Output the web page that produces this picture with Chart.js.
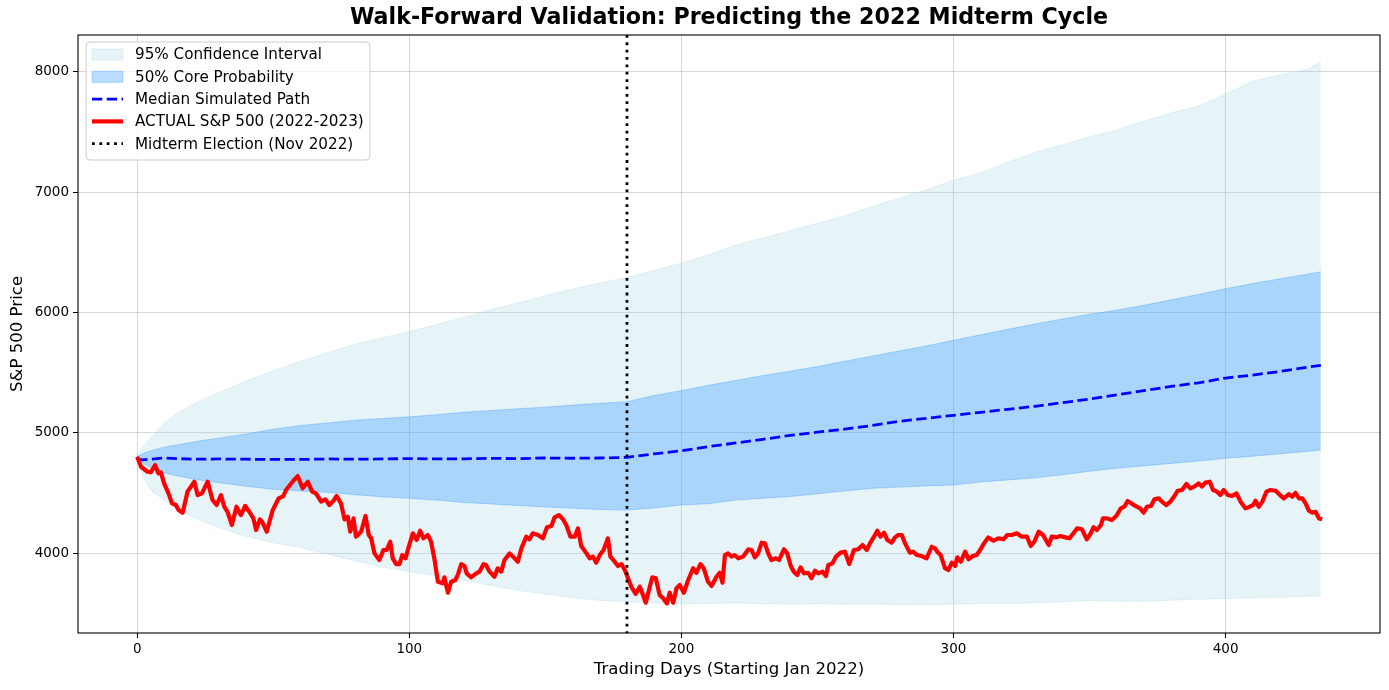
<!DOCTYPE html>
<html>
<head>
<meta charset="utf-8">
<script src="https://cdn.jsdelivr.net/npm/chart.js@4.4.1/dist/chart.umd.min.js"></script>
<style>
  html, body { margin: 0; padding: 0; background: #fff; }
  canvas { display: block; }
</style>
</head>
<body>
<canvas id="wf_chart" width="1389" height="690"></canvas>
<script>
// data
var bandDays = [0, 2, 5, 10, 15, 20, 25, 30, 40, 50, 60, 70, 80, 90, 100, 110, 120, 130, 140, 150, 160, 170, 180,
  190, 200, 210, 220, 230, 240, 250, 260, 270, 280, 290, 300, 310, 320, 330, 340, 350, 360, 370, 380, 390, 400,
  410, 420, 430, 435];
var upper95 = [4800, 4880, 4960, 5080, 5165, 5230, 5285, 5335, 5430, 5515, 5595, 5665, 5735, 5790, 5840, 5900, 5960,
  6025, 6080, 6140, 6195, 6245, 6290, 6350, 6410, 6480, 6560, 6620, 6680, 6742, 6805, 6880, 6950, 7020, 7100, 7160,
  7250, 7330, 7395, 7460, 7518, 7590, 7660, 7715, 7815, 7925, 7975, 8020, 8086];
var lower95 = [4800, 4640, 4520, 4440, 4365, 4305, 4255, 4210, 4140, 4085, 4045, 3990, 3935, 3885, 3845, 3810, 3775,
  3730, 3690, 3660, 3630, 3607, 3595, 3585, 3576, 3580, 3585, 3578, 3576, 3578, 3575, 3576, 3572, 3570, 3575, 3580,
  3580, 3585, 3595, 3605, 3600, 3598, 3608, 3615, 3622, 3628, 3632, 3640, 3642];
var upper50 = [4800, 4825, 4850, 4880, 4900, 4920, 4939, 4955, 4990, 5030, 5060, 5082, 5104, 5118, 5132, 5150, 5170,
  5185, 5200, 5213, 5230, 5245, 5258, 5310, 5350, 5395, 5435, 5475, 5512, 5550, 5595, 5637, 5680, 5722, 5768, 5815,
  5860, 5905, 5945, 5985, 6020, 6060, 6105, 6150, 6198, 6240, 6280, 6318, 6338];
var lower50 = [4800, 4750, 4710, 4665, 4640, 4618, 4600, 4585, 4555, 4530, 4515, 4505, 4485, 4468, 4455, 4440, 4420,
  4408, 4395, 4383, 4373, 4362, 4357, 4375, 4399, 4410, 4440, 4455, 4470, 4492, 4515, 4538, 4548, 4558, 4565, 4590,
  4608, 4625, 4650, 4680, 4705, 4725, 4745, 4765, 4787, 4805, 4825, 4845, 4856];
var medianPath = [4780, 4775, 4780, 4790, 4785, 4780, 4780, 4782, 4780, 4778, 4778, 4782, 4780, 4782, 4785, 4782, 4783,
  4787, 4785, 4790, 4788, 4790, 4795, 4825, 4850, 4885, 4915, 4945, 4978, 5005, 5030, 5060, 5095, 5120, 5145, 5170,
  5195, 5220, 5250, 5280, 5315, 5350, 5385, 5415, 5455, 5480, 5510, 5545, 5561];

var actualDays = [0, 1.4, 3.8, 5, 6.6, 7.8, 8.7, 9.9, 11.5, 12.8, 14.2, 15.2, 16.7, 18.5, 21, 22.2, 23.8, 25.9, 27.7,
  29.2, 30.8, 32, 33.2, 34.8, 36.5, 38.1, 39.7, 41.2, 42.7, 43.7, 45.1, 45.9, 47.6, 49.8, 52, 53.7, 54.7, 57.1, 59,
  60.8, 62.7, 64.3, 65.7, 67.6, 69.2, 70.6, 72, 73.3, 74.9, 76.2, 77.4, 78.3, 79.5, 80.4, 82.3, 83.9, 85.1, 86, 87.2,
  89, 90.5, 91.7, 93, 93.9, 95.2, 96.4, 97.4, 98.6, 99.8, 101.3, 102.7, 104, 105.2, 106.8, 108, 109.3, 110.5, 112.3,
  112.9, 114.2, 115.4, 117, 117.8, 119.1, 120.3, 121.1, 122.7, 124.6, 125.8, 127.3, 128.2, 129.5, 131.3, 132.5, 133.8,
  135, 136.9, 138.1, 139.9, 141.2, 143, 144.2, 145.4, 147.3, 149.1, 150.6, 152.2, 153.4, 155, 156.5, 157.7, 159.2,
  160.8, 162, 163.2, 165.1, 166.3, 167.5, 168.7, 170, 171.4, 173, 173.9, 175.5, 176.7, 178, 179.2, 180.4, 181.6, 183.2,
  184.7, 185.9, 186.9, 188.4, 189.3, 190.6, 192, 193.3, 194.7, 195.7, 197, 198.2, 199.4, 200.9, 202.5, 204.3, 205.5,
  207, 208.2, 209.8, 211.1, 212.9, 214.1, 215.1, 216, 217.2, 218.4, 219.6, 220.9, 222.7, 224.6, 225.8, 227, 228.2,
  229.5, 230.7, 231.9, 233.1, 234.7, 235.9, 237.7, 238.9, 240.2, 241.3, 242.6, 243.8, 245, 246.6, 247.8, 249.1, 250.3,
  251.9, 253.1, 254, 255.5, 256.8, 258.5, 260.1, 261.7, 263.4, 265, 266.6, 268.1, 269.3, 270.8, 272, 273.2, 274.5,
  275.7, 277.3, 278.5, 279.7, 281, 282.2, 284, 285.2, 286.5, 288.3, 290.1, 292, 293.2, 294, 295.3, 296.9, 298.1,
  299.4, 300.6, 301.4, 302.7, 304.3, 305.5, 307.1, 308.5, 309.8, 311.2, 312.8, 314.7, 316.5, 318.4, 319.8, 321.4,
  323.3, 325.1, 327, 328.4, 329.7, 331.3, 332.9, 335, 336.1, 337.8, 339.2, 341.1, 342.6, 344.1, 345.4, 347.2, 349,
  350.3, 351.5, 352.7, 354.2, 354.9, 356.4, 358.2, 359.8, 361.5, 362.8, 364, 365.6, 366.8, 368.6, 369.9, 371.1,
  372.6, 373.8, 375.4, 376.6, 378.2, 379.7, 381.2, 382.4, 384, 385.6, 387, 388.5, 390.1, 391.3, 392.6, 394.2, 395.4,
  396.9, 398.1, 399.3, 400.8, 402.4, 404, 405.5, 407.3, 408.9, 410.1, 411, 412.2, 413.5, 415, 416.5, 418.4, 420,
  421.4, 423.3, 424.5, 425.7, 427, 428.2, 429.4, 430.6, 431.9, 433.1, 434.3, 435.5];
var actualPrice = [4800, 4717, 4676, 4671, 4731, 4662, 4671, 4579, 4496, 4413, 4399, 4357, 4335, 4510, 4593, 4482,
  4496, 4593, 4441, 4399, 4482, 4385, 4343, 4233, 4385, 4316, 4391, 4343, 4288, 4191, 4280, 4260, 4177, 4357, 4455,
  4474, 4524, 4593, 4640, 4538, 4593, 4510, 4496, 4427, 4446, 4399, 4430, 4474, 4413, 4280, 4302, 4177, 4288, 4136,
  4177, 4308, 4150, 4122, 3997, 3942, 4025, 4025, 4094, 3956, 3908, 3908, 3983, 3956, 4052, 4164, 4108, 4185, 4122,
  4150, 4094, 3942, 3761, 3748, 3798, 3670, 3761, 3776, 3817, 3908, 3892, 3831, 3798, 3831, 3845, 3908, 3900, 3845,
  3803, 3873, 3845, 3942, 3997, 3970, 3928, 4039, 4136, 4114, 4164, 4150, 4122, 4214, 4224, 4297, 4316, 4280, 4233,
  4136, 4136, 4205, 4058, 3997, 3956, 3970, 3920, 3983, 4025, 4122, 3970, 3928, 3892, 3908, 3859, 3790, 3720, 3659,
  3720, 3651, 3587, 3720, 3798, 3790, 3651, 3623, 3581, 3670, 3587, 3707, 3734, 3670, 3776, 3873, 3836, 3908, 3873,
  3761, 3726, 3803, 3836, 3753, 3983, 3997, 3970, 3983, 3956, 3970, 4031, 4025, 3964, 3997, 4086, 4080, 3997, 3942,
  3956, 3942, 4031, 3997, 3892, 3845, 3817, 3881, 3831, 3836, 3790, 3853, 3831, 3845, 3809, 3900, 3914, 3970, 4003,
  4011, 3908, 4025, 4031, 4066, 4025, 4080, 4136, 4185, 4136, 4169, 4108, 4086, 4130, 4150, 4150, 4080, 4003, 4011,
  3983, 3975, 3956, 4052, 4039, 4011, 3983, 3873, 3859, 3920, 3892, 3964, 3928, 4011, 3948, 3975, 3983, 4025, 4080,
  4130, 4102, 4122, 4114, 4150, 4150, 4164, 4136, 4136, 4058, 4094, 4177, 4150, 4066, 4136, 4130, 4141, 4130, 4122,
  4164, 4205, 4197, 4114, 4158, 4214, 4191, 4233, 4288, 4288, 4274, 4308, 4371, 4385, 4432, 4410, 4391, 4371, 4335,
  4385, 4391, 4446, 4455, 4427, 4399, 4427, 4474, 4518, 4524, 4574, 4538, 4552, 4579, 4552, 4585, 4593, 4524, 4510,
  4482, 4524, 4482, 4474, 4496, 4427, 4371, 4385, 4399, 4435, 4385, 4427, 4510, 4524, 4518, 4482, 4455, 4490, 4468,
  4501, 4455, 4455, 4413, 4352, 4335, 4343, 4288, 4280];

var electionDay = 180;
var xTickValues = [0, 100, 200, 300, 400];
var yTickValues = [4000, 5000, 6000, 7000, 8000];
var xRange = [-21.75, 456.75];
var yRange = [3335, 8307];

var chartTitle = "Walk-Forward Validation: Predicting the 2022 Midterm Cycle";
var xTitle = "Trading Days (Starting Jan 2022)";
var yTitle = "S&P 500 Price";
var legendLabels = ["95% Confidence Interval", "50% Core Probability", "Median Simulated Path",
  "ACTUAL S&P 500 (2022-2023)", "Midterm Election (Nov 2022)"];

var FONT = "'DejaVu Sans', Verdana, sans-serif";
var col95 = "rgba(173, 216, 230, 0.3)";
var col50 = "rgba(30, 144, 255, 0.3)";

function toPoints(xs, ys) {
  return xs.map(function (x, i) { return { x: x, y: ys[i] }; });
}

// election line, frame, legend and titles
var extrasPlugin = {
  id: "extras",
  afterDatasetsDraw: function (chart) {
    var ctx = chart.ctx;
    var area = chart.chartArea;
    var px = chart.scales.x.getPixelForValue(electionDay);
    ctx.save();
    ctx.beginPath();
    ctx.rect(area.left, area.top, area.right - area.left, area.bottom - area.top);
    ctx.clip();
    ctx.strokeStyle = "#000";
    ctx.lineWidth = 2.78;
    ctx.setLineDash([2.78, 4.58]);
    ctx.beginPath();
    ctx.moveTo(px, area.top);
    ctx.lineTo(px, area.bottom);
    ctx.stroke();
    ctx.restore();
  },
  afterDraw: function (chart) {
    var ctx = chart.ctx;
    var area = chart.chartArea;
    ctx.save();
    // frame
    ctx.strokeStyle = "#000";
    ctx.lineWidth = 1.1;
    ctx.strokeRect(area.left, area.top, area.right - area.left, area.bottom - area.top);

    // titles
    ctx.fillStyle = "#000";
    ctx.textAlign = "center";
    ctx.textBaseline = "middle";
    var cx = (area.left + area.right) / 2;
    ctx.font = "bold 22.2px " + FONT;
    ctx.fillText(chartTitle, cx, 18.5);
    ctx.font = "16.6px " + FONT;
    ctx.fillText(xTitle, cx, 670);
    ctx.save();
    ctx.translate(18, (area.top + area.bottom) / 2);
    ctx.rotate(-Math.PI / 2);
    ctx.fillText(yTitle, 0, 0);
    ctx.restore();

    // legend
    var lx = area.left + 8, ly = area.top + 7, lw = 284, lh = 118, r = 4;
    ctx.beginPath();
    ctx.moveTo(lx + r, ly);
    ctx.arcTo(lx + lw, ly, lx + lw, ly + lh, r);
    ctx.arcTo(lx + lw, ly + lh, lx, ly + lh, r);
    ctx.arcTo(lx, ly + lh, lx, ly, r);
    ctx.arcTo(lx, ly, lx + lw, ly, r);
    ctx.closePath();
    ctx.fillStyle = "rgba(255,255,255,0.8)";
    ctx.fill();
    ctx.strokeStyle = "#cccccc";
    ctx.lineWidth = 1;
    ctx.stroke();

    var hx = lx + 6, hw = 31, tx = lx + 49;
    ctx.font = "15.2px " + FONT;
    ctx.textAlign = "left";
    legendLabels.forEach(function (label, i) {
      var cy = ly + 12.5 + i * 22.3;
      if (i < 2) {
        ctx.setLineDash([]);
        ctx.fillStyle = i === 0 ? col95 : col50;
        ctx.strokeStyle = i === 0 ? col95 : col50;
        ctx.lineWidth = 1;
        ctx.fillRect(hx, cy - 5.5, hw, 11);
        ctx.strokeRect(hx, cy - 5.5, hw, 11);
      } else {
        ctx.beginPath();
        if (i === 2) {
          ctx.strokeStyle = "#0000ff"; ctx.lineWidth = 2.78; ctx.setLineDash([10.3, 4.45]);
        } else if (i === 3) {
          ctx.strokeStyle = "#ff0000"; ctx.lineWidth = 4.17; ctx.setLineDash([]);
        } else {
          ctx.strokeStyle = "#000"; ctx.lineWidth = 2.78; ctx.setLineDash([2.78, 4.58]);
        }
        ctx.moveTo(hx, cy);
        ctx.lineTo(hx + hw, cy);
        ctx.stroke();
      }
      ctx.setLineDash([]);
      ctx.fillStyle = "#000";
      ctx.fillText(label, tx, cy + 1);
    });
    ctx.restore();
  }
};

var gridColor = "rgba(176,176,176,0.5)";

new Chart(document.getElementById("wf_chart"), {
  type: "line",
  data: {
    datasets: [
      {
        label: legendLabels[3],
        data: toPoints(actualDays, actualPrice),
        borderColor: "#ff0000",
        borderWidth: 4.17,
        borderJoinStyle: "round",
        pointRadius: 0,
        fill: false,
        order: 0
      },
      {
        label: legendLabels[2],
        data: toPoints(bandDays, medianPath),
        borderColor: "#0000ff",
        borderWidth: 2.78,
        borderDash: [10.3, 4.45],
        pointRadius: 0,
        fill: false,
        order: 1
      },
      {
        label: legendLabels[1],
        data: toPoints(bandDays, upper50),
        borderColor: col50,
        backgroundColor: col50,
        borderWidth: 1,
        pointRadius: 0,
        fill: 3,
        order: 2
      },
      {
        label: "lower50",
        data: toPoints(bandDays, lower50),
        borderColor: col50,
        borderWidth: 1,
        pointRadius: 0,
        fill: false,
        order: 3
      },
      {
        label: legendLabels[0],
        data: toPoints(bandDays, upper95),
        borderColor: col95,
        backgroundColor: col95,
        borderWidth: 1,
        pointRadius: 0,
        fill: 5,
        order: 4
      },
      {
        label: "lower95",
        data: toPoints(bandDays, lower95),
        borderColor: col95,
        borderWidth: 1,
        pointRadius: 0,
        fill: false,
        order: 5
      }
    ]
  },
  options: {
    responsive: false,
    devicePixelRatio: 1,
    animation: false,
    layout: { padding: { top: 35, right: 9, left: 0, bottom: 0 } },
    plugins: {
      legend: { display: false },
      title: { display: false },
      tooltip: { enabled: false }
    },
    scales: {
      x: {
        type: "linear",
        min: xRange[0],
        max: xRange[1],
        afterBuildTicks: function (scale) {
          scale.ticks = xTickValues.map(function (v) { return { value: v }; });
        },
        afterFit: function (scale) { scale.height = 57; },
        grid: { color: gridColor, lineWidth: 1, tickColor: "#000", tickLength: 5 },
        border: { display: false },
        ticks: {
          color: "#000",
          padding: 3,
          maxRotation: 0,
          font: { family: FONT, size: 13.5 },
          callback: function (v) { return v; }
        }
      },
      y: {
        type: "linear",
        min: yRange[0],
        max: yRange[1],
        afterBuildTicks: function (scale) {
          scale.ticks = yTickValues.map(function (v) { return { value: v }; });
        },
        afterFit: function (scale) { scale.width = 78; },
        grid: { color: gridColor, lineWidth: 1, tickColor: "#000", tickLength: 5 },
        border: { display: false },
        ticks: {
          color: "#000",
          padding: 4,
          font: { family: FONT, size: 13.5 },
          callback: function (v) { return v; }
        }
      }
    }
  },
  plugins: [extrasPlugin]
});
</script>
</body>
</html>
